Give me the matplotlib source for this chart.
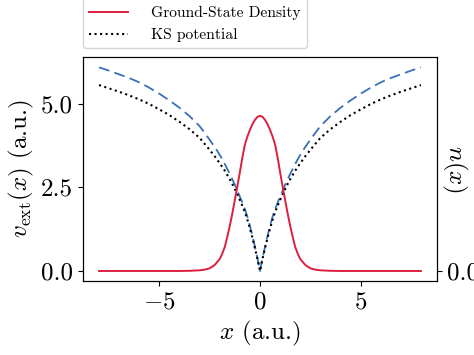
# external potential, KS potential and ground-state density of a 1D system
import numpy as np
import matplotlib
matplotlib.use('Agg')
import matplotlib.pyplot as plt
from matplotlib.ticker import FormatStrFormatter

plt.rcParams['font.family'] = 'serif'
plt.rcParams['font.serif'] = ['cmr10']
plt.rcParams['mathtext.fontset'] = 'cm'
plt.rcParams['axes.formatter.use_mathtext'] = True
plt.rcParams['axes.unicode_minus'] = True

# values, right half (x >= 0); the curves are symmetric
x_half = [0.0, 0.125, 0.25, 0.375, 0.5, 0.625, 0.75, 0.875, 1.0, 1.125, 1.25,
          1.375, 1.5, 1.625, 1.75, 1.875, 2.0, 2.25, 2.5, 2.75, 3.0, 3.5, 4.0,
          4.5, 5.0, 5.5, 6.0, 6.5, 7.0, 7.5, 8.0]
v_ext_half = [0.0, 0.38, 0.72, 1.05, 1.35, 1.62, 1.85, 2.04, 2.22, 2.40, 2.58,
              2.74, 2.90, 3.05, 3.20, 3.34, 3.47, 3.71, 3.92, 4.13, 4.33, 4.63,
              4.88, 5.10, 5.30, 5.48, 5.64, 5.77, 5.88, 5.99, 6.09]
v_ks_half = [0.0, 0.36, 0.68, 0.99, 1.27, 1.53, 1.76, 1.95, 2.12, 2.29, 2.45,
             2.60, 2.74, 2.87, 3.00, 3.11, 3.22, 3.43, 3.62, 3.80, 3.98, 4.24,
             4.46, 4.66, 4.83, 4.99, 5.13, 5.25, 5.36, 5.46, 5.56]
# density, in units of the right axis
n_half = [0.464, 0.461, 0.452, 0.439, 0.422, 0.402, 0.378, 0.340, 0.295, 0.253,
          0.212, 0.172, 0.135, 0.102, 0.072, 0.052, 0.036, 0.018, 0.008, 0.004,
          0.002, 0.0005, 0.0, 0.0, 0.0, 0.0, 0.0, 0.0, 0.0, 0.0, 0.0]

x = np.array([-v for v in x_half[:0:-1]] + x_half)
v_ext = np.array(v_ext_half[:0:-1] + v_ext_half)
v_ks = np.array(v_ks_half[:0:-1] + v_ks_half)
n = np.array(n_half[:0:-1] + n_half)

n_per_v = 0.1  # right axis units per left axis unit

fig, ax = plt.subplots(figsize=(4.74, 3.55), dpi=100)
fig.subplots_adjust(left=0.175, right=0.922, bottom=0.208, top=0.839)
ax2 = ax.twinx()

l1, = ax.plot(x, v_ext, '--', color='#3b6fb6', lw=1.3, dashes=(6, 3),
              label='External Potential')
l3, = ax.plot(x, v_ks, ':', color='black', lw=1.5, label='KS potential')
l2, = ax2.plot(x, n, '-', color='#dc1f3c', lw=1.4, label='Ground-State Density')

ax.set_xlabel(r'$x$ (a.u.)', fontsize=18)
ax.set_ylabel(r'$v_{\rm ext}(x)$ (a.u.)', fontsize=18)
ax2.set_ylabel(r'$n(x)$', fontsize=18, rotation=-90)
ax2.yaxis.set_label_coords(1.09, 0.5)
ax.set_xticks([-5, 0, 5])
ax.set_yticks([0.0, 2.5, 5.0])
ax.tick_params(labelsize=18)
ax2.tick_params(labelsize=18)

ax.set_xlim(ax.get_xlim())
lo, hi = ax.get_ylim()
ax2.set_ylim(lo * n_per_v, hi * n_per_v)
ax2.set_yticks([0.0])
ax2.yaxis.set_major_formatter(FormatStrFormatter('%.1f'))
ax.yaxis.set_major_formatter(FormatStrFormatter('%.1f'))

ax.legend([l1, l2, l3], [l1.get_label(), l2.get_label(), l3.get_label()],
          loc='lower left', bbox_to_anchor=(0, 1.04), borderaxespad=0,
          fontsize=11.2, handlelength=2.5, handletextpad=1.5)

fig.savefig('out.png', dpi=100)
